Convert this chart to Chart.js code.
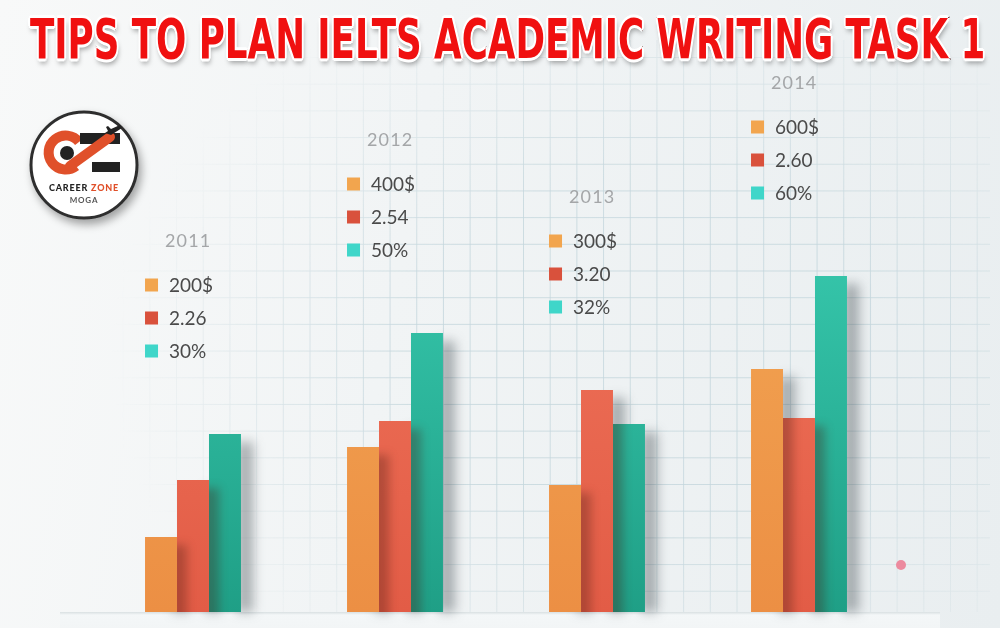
<!DOCTYPE html>
<html>
<head>
<meta charset="utf-8">
<script src="https://cdn.jsdelivr.net/npm/chart.js@4.4.0/dist/chart.umd.min.js"></script>
<style>
  html, body { margin: 0; padding: 0; }
  body {
    width: 1000px; height: 628px; overflow: hidden; position: relative;
    background: linear-gradient(100deg, #f8f9f9 0%, #f1f4f5 40%, #e9eef0 100%);
  }
  #grid {
    position: absolute; left: 90px; top: 40px; width: 900px; height: 572px;
    background-image:
      linear-gradient(to right, rgba(196,214,220,0.8) 1.4px, transparent 1.4px),
      linear-gradient(to bottom, rgba(196,214,220,0.8) 1.4px, transparent 1.4px);
    background-size: 26.7px 26.7px;
    background-position: 6px 17px;
    -webkit-mask-image: radial-gradient(ellipse 60% 70% at 62% 55%, #000 45%, transparent 100%);
    mask-image: radial-gradient(ellipse 60% 70% at 62% 55%, #000 45%, transparent 100%);
  }
  #floor {
    position: absolute; left: 60px; top: 612px; width: 880px; height: 16px;
    background: linear-gradient(to bottom, #d9e0e2 0, #f4f7f8 3px, #f2f5f6 100%);
  }
  #chartBox { position: absolute; left: 0; top: 0; width: 1000px; height: 628px; }
  #title {
    position: absolute; left: 30px; top: 6px; margin: 0;
    font-family: "DejaVu Sans", sans-serif; font-weight: 900; font-size: 56px;
    color: #f01010; white-space: nowrap; transform-origin: 0 0;
    -webkit-text-stroke: 2.5px #3a0505; paint-order: stroke fill;
    text-shadow: 3px 0 0 #fff, -3px 0 0 #fff, 0 3px 0 #fff, 0 -3px 0 #fff,
                 2px 2px 0 #fff, -2px 2px 0 #fff, 2px -2px 0 #fff, -2px -2px 0 #fff,
                 2px 5px 6px rgba(0,0,0,0.35);
  }
  #logo { position: absolute; left: 0; top: 0; }
  #dot {
    position: absolute; left: 896px; top: 560px; width: 10px; height: 10px;
    border-radius: 50%; background: #ec8a9e;
  }
</style>
</head>
<body>
<div id="grid"></div>
<div id="floor"></div>
<div id="dot"></div>
<div id="chartBox"><canvas id="barChart" width="1000" height="628"></canvas></div>
<h1 id="title">TIPS TO PLAN IELTS ACADEMIC WRITING TASK 1</h1>
<svg id="logo" width="200" height="240" viewBox="0 0 200 240">
  <defs>
    <filter id="sh" x="-30%" y="-30%" width="160%" height="160%">
      <feDropShadow dx="3" dy="5" stdDeviation="4" flood-color="#000" flood-opacity="0.35"/>
    </filter>
  </defs>
  <circle cx="84" cy="165" r="53" fill="#fff" stroke="#2e2e2e" stroke-width="3" filter="url(#sh)"/>
  <path d="M79 142 A17 17 0 1 0 76 166" fill="none" stroke="#e0502a" stroke-width="10"/>
  <circle cx="67" cy="153" r="7" fill="#222"/>
  <rect x="80" y="133" width="40" height="11" fill="#222"/>
  <rect x="92" y="162" width="28" height="10" fill="#222"/>
  <path d="M70 166 L110 137" stroke="#e0502a" stroke-width="10" stroke-linecap="round"/>
  <path d="M111 135 l11 -7 l-2 -3 l-9 4 l-3 -3 l-2 1 l2 4 l-3 2 z" fill="#222"/>
  <text x="84" y="191" text-anchor="middle" font-family="Lato, sans-serif" font-weight="900" font-size="9" letter-spacing="0.8"><tspan fill="#222">CAREER </tspan><tspan fill="#e0502a">ZONE</tspan></text>
  <text x="84" y="203" text-anchor="middle" font-family="Lato, sans-serif" font-weight="700" font-size="8" fill="#555" letter-spacing="0.8">MOGA</text>
</svg>
<script>
// years and the figures printed above each group
const years = ['2011', '2012', '2013', '2014'];
const priceLabels = ['200$', '400$', '300$', '600$'];
const rateLabels = ['2.26', '2.54', '3.20', '2.60'];
const shareLabels = ['30%', '50%', '32%', '60%'];

// bar heights (relative units)
const priceBars = [75, 165, 127, 243];
const rateBars = [132, 191, 222, 194];
const shareBars = [178, 279, 188, 336];

const topColors = ['#f2a452', '#ef7259', '#36c6ab'];
const bottomColors = ['#ec8f44', '#e25c46', '#1f9f86'];
const swatch = ['#f2a54e', '#d9513c', '#3fd6c9'];

// fit the title to its width
const title = document.getElementById('title');
title.style.transform = 'scaleX(' + (955 / title.scrollWidth) + ')';

function barFill(k) {
    return (c) => {
        const area = c.chart.chartArea;
        if (!area) return bottomColors[k];
        const g = c.chart.ctx.createLinearGradient(0, area.top + 150, 0, area.bottom);
        g.addColorStop(0, topColors[k]);
        g.addColorStop(1, bottomColors[k]);
        return g;
    };
}

// soft shadow to the right of the bars and shading where one bar falls on the next
const barShadow = {
    id: 'barShadow',
    beforeDatasetsDraw(chart) {
        const ctx = chart.ctx;
        ctx.save();
        ctx.filter = 'blur(6px)';
        ctx.fillStyle = 'rgba(45,55,60,0.38)';
        [0, 1, 2].forEach(k => {
            chart.getDatasetMeta(k).data.forEach(b => {
                const right = b.x + b.width / 2;
                ctx.fillRect(right - 4, b.y + 8, 16, b.base - b.y - 8);
            });
        });
        ctx.restore();
    },
    afterDatasetsDraw(chart) {
        const ctx = chart.ctx;
        [1, 2].forEach(k => {
            const casters = chart.getDatasetMeta(k - 1).data;
            chart.getDatasetMeta(k).data.forEach((b, i) => {
                const left = b.x - b.width / 2;
                const top = casters[i].y + 8;
                ctx.save();
                ctx.beginPath();
                ctx.rect(left, b.y, b.width, b.base - b.y);
                ctx.clip();
                ctx.filter = 'blur(5px)';
                ctx.fillStyle = 'rgba(70,25,15,0.32)';
                ctx.fillRect(left - 10, top, 20, b.base - top + 10);
                ctx.restore();
            });
        });
    }
};

const groupLabels = {
    id: 'groupLabels',
    afterDraw(chart) {
        const ctx = chart.ctx;
        const metas = [0, 1, 2].map(i => chart.getDatasetMeta(i));
        const rows = [priceLabels, rateLabels, shareLabels];
        years.forEach((yr, i) => {
            const first = metas[0].data[i];
            const left = first.x - first.width / 2;
            const top = Math.min(...metas.map(m => m.data[i].y));
            const rowY = top - 149;
            ctx.save();
            ctx.textBaseline = 'middle';
            ctx.font = '18px Lato, sans-serif';
            ctx.fillStyle = '#a4a6a8';
            ctx.fillText(yr.split('').join(String.fromCharCode(8202)), left + 20, rowY - 44);
            ctx.font = '19px Lato, sans-serif';
            rows.forEach((r, k) => {
                const y = rowY + k * 33;
                ctx.fillStyle = swatch[k];
                ctx.fillRect(left, y - 6.5, 13, 13);
                ctx.fillStyle = '#4a4a4a';
                ctx.fillText(r[i], left + 24, y + 1);
            });
            ctx.restore();
        });
    }
};

new Chart(document.getElementById('barChart'), {
    type: 'bar',
    data: {
        labels: years,
        datasets: [
            { data: priceBars, backgroundColor: barFill(0) },
            { data: rateBars, backgroundColor: barFill(1) },
            { data: shareBars, backgroundColor: barFill(2) }
        ]
    },
    options: {
        responsive: false, animation: false,
        layout: { padding: { left: 92, right: 100, top: 100, bottom: 16 } },
        datasets: { bar: { categoryPercentage: 0.475, barPercentage: 1, borderWidth: 0 } },
        scales: {
            x: { display: false },
            y: { display: false, min: 0, max: 512 }
        },
        plugins: { legend: { display: false }, tooltip: { enabled: false } }
    },
    plugins: [barShadow, groupLabels]
});
</script>
</body>
</html>
